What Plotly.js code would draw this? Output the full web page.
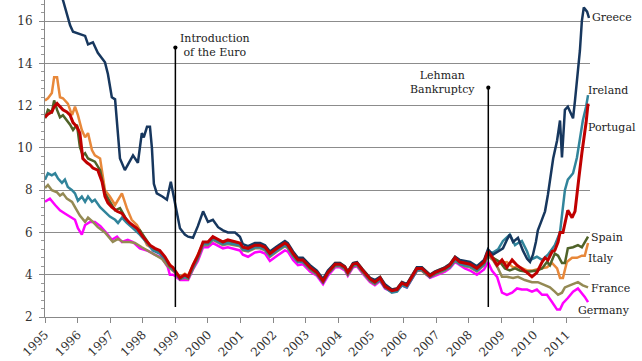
<!DOCTYPE html>
<html><head><meta charset="utf-8">
<script src="https://cdn.plot.ly/plotly-3.0.1.min.js"></script>
<style>html,body{margin:0;padding:0;background:#fff}#chart{width:642px;height:361px}</style>
</head><body><div id="chart"></div>
<script>
// ---- data (10-year government bond yields, %) ----
var tickYears = [1995,1996,1997,1998,1999,2000,2001,2002,2003,2004,2005,2006,2007,2008,2009,2010,2011];
var tickLabels = ["1995","1996","1997","1998","1999","2000","2001","2002","2003","2004","2005","2006","2007","2008","2009","2010","2011"];
var yTicks = [2,4,6,8,10,12,14,16];

var midYears = [1999.14,1999.29,1999.39,1999.54,1999.69,1999.85,2000.00,2000.15,2000.31,2000.46,2000.61,2000.83,2000.98,2001.07,2001.23,2001.44,2001.60,2001.75,2001.90,2002.12,2002.36,2002.45,2002.61,2002.76,2002.91,2003.13,2003.34,2003.53,2003.68,2003.90,2004.05,2004.20,2004.29,2004.45,2004.57,2004.75,2004.97,2005.12,2005.28,2005.43,2005.64,2005.80,2005.95,2006.10,2006.26,2006.41,2006.56,2006.66,2006.81,2006.96,2007.12,2007.27,2007.42,2007.58,2007.73,2007.88,2008.04,2008.25,2008.47,2008.59];

var greeceEarlyYears = [1995.00,1995.30,1995.55,1995.67,1995.77,1995.86,1996.07,1996.23,1996.32,1996.47,1996.62,1996.84,1996.93,1997.05,1997.15,1997.21,1997.30,1997.45,1997.70,1997.85,1997.97,1998.03,1998.13,1998.22,1998.28,1998.34,1998.43,1998.60,1998.74,1998.86,1998.99];
var greeceEarly = [19.0,18.0,17.0,16.4,15.8,15.5,15.4,15.3,14.9,15.0,14.5,14.05,13.5,12.4,12.3,11.0,9.5,8.95,9.65,9.3,10.7,10.5,11.0,11.0,10.0,8.3,7.85,7.7,7.55,8.4,7.3];
var greeceMid = [6.2,5.9,5.8,5.75,6.3,7.0,6.5,6.6,6.25,6.1,6.0,6.0,5.8,5.45,5.35,5.5,5.5,5.4,5.1,5.35,5.6,5.5,5.1,4.8,4.8,4.45,4.2,3.8,4.2,4.55,4.55,4.4,4.15,4.55,4.6,4.25,3.85,3.75,3.9,3.55,3.3,3.35,3.65,3.55,3.95,4.35,4.35,4.2,4.0,4.15,4.25,4.35,4.5,4.85,4.7,4.65,4.6,4.4,4.7,5.2];
var greeceLateYears = [2008.74,2008.90,2009.05,2009.17,2009.26,2009.36,2009.51,2009.66,2009.79,2009.88,2009.97,2010.06,2010.12,2010.22,2010.34,2010.43,2010.49,2010.59,2010.71,2010.80,2010.86,2010.95,2011.04,2011.20,2011.26,2011.32,2011.41,2011.47,2011.53,2011.63,2011.69];
var greeceLate = [4.95,5.1,5.25,5.65,5.9,5.55,5.75,5.15,4.75,4.6,4.95,5.55,6.1,6.5,7.0,7.8,8.4,9.5,10.35,11.3,9.55,11.8,11.95,11.4,12.25,13.1,14.6,16.0,16.65,16.45,16.15];

var portugalEarlyYears = [1995.00,1995.09,1995.21,1995.28,1995.37,1995.46,1995.55,1995.67,1995.77,1995.86,1995.98,1996.07,1996.13,1996.16,1996.29,1996.38,1996.47,1996.62,1996.75,1996.84,1996.93,1997.05,1997.21,1997.36,1997.45,1997.60,1997.82,1998.00,1998.22,1998.37,1998.52,1998.68,1998.83,1998.92,1998.99];
var portugalEarly = [11.45,11.6,11.7,11.95,12.1,11.95,11.8,11.7,11.55,11.2,11.0,10.7,10.05,9.5,9.3,9.2,9.05,8.95,8.4,7.7,7.4,7.2,7.0,6.9,6.7,6.45,6.2,5.8,5.4,5.25,5.15,4.85,4.45,4.35,4.2];
var portugalMid = [3.85,4.0,3.9,4.45,4.9,5.55,5.55,5.8,5.65,5.55,5.65,5.55,5.5,5.3,5.25,5.4,5.4,5.3,5.0,5.25,5.5,5.4,5.0,4.7,4.7,4.35,4.1,3.7,4.1,4.5,4.5,4.35,4.1,4.5,4.55,4.2,3.8,3.65,3.85,3.45,3.25,3.3,3.6,3.5,3.9,4.3,4.3,4.15,3.95,4.1,4.2,4.3,4.45,4.8,4.6,4.55,4.5,4.3,4.6,5.1];
var portugalLateYears = [2008.71,2008.87,2009.02,2009.17,2009.33,2009.48,2009.63,2009.79,2009.94,2010.09,2010.25,2010.34,2010.43,2010.56,2010.64,2010.74,2010.80,2010.89,2011.04,2011.17,2011.26,2011.32,2011.38,2011.47,2011.53,2011.60,2011.66];
var portugalLate = [4.85,4.45,4.7,4.35,4.7,4.45,4.3,4.1,3.9,4.1,4.6,4.8,4.7,5.1,5.15,5.55,6.0,6.0,7.05,6.7,7.0,7.7,8.6,9.75,10.4,11.2,12.1];

var spainEarlyYears = [1995.00,1995.09,1995.21,1995.28,1995.37,1995.46,1995.55,1995.67,1995.77,1995.86,1995.98,1996.07,1996.16,1996.23,1996.32,1996.53,1996.69,1996.84,1997.05,1997.15,1997.30,1997.45,1997.54,1997.70,1997.91,1998.13,1998.31,1998.52,1998.68,1998.83,1998.99];
var spainEarly = [11.4,11.8,11.7,12.25,11.8,11.45,11.55,11.3,11.1,10.85,11.1,10.05,9.65,9.75,9.5,9.35,8.95,7.85,7.3,7.05,7.15,6.75,6.5,6.25,6.1,5.6,5.2,5.05,4.8,4.4,4.15];
var spainMid = [3.8,3.95,3.85,4.4,4.85,5.5,5.5,5.75,5.6,5.5,5.6,5.5,5.45,5.25,5.2,5.35,5.35,5.25,4.95,5.2,5.45,5.35,4.95,4.65,4.65,4.3,4.05,3.65,4.05,4.45,4.45,4.3,4.05,4.45,4.5,4.15,3.75,3.6,3.8,3.4,3.2,3.25,3.55,3.45,3.85,4.25,4.25,4.1,3.9,4.05,4.15,4.25,4.4,4.75,4.55,4.5,4.45,4.25,4.55,5.05];
var spainLateYears = [2008.74,2008.96,2009.11,2009.26,2009.42,2009.57,2009.72,2009.88,2010.09,2010.25,2010.40,2010.49,2010.64,2010.74,2010.86,2010.95,2011.04,2011.20,2011.35,2011.47,2011.60,2011.66];
var spainLate = [4.8,4.6,4.3,4.2,4.3,4.2,4.15,4.15,4.2,4.3,4.6,4.45,5.0,4.9,4.55,4.55,5.25,5.3,5.4,5.3,5.65,5.8];

var italyEarlyYears = [1995.00,1995.09,1995.21,1995.28,1995.37,1995.46,1995.55,1995.70,1995.83,1995.92,1996.01,1996.13,1996.23,1996.32,1996.44,1996.53,1996.69,1996.78,1996.84,1996.99,1997.15,1997.36,1997.51,1997.66,1997.82,1997.97,1998.13,1998.31,1998.52,1998.74,1998.89,1999.00];
var italyEarly = [12.25,12.35,12.6,13.35,13.35,12.4,12.35,12.1,11.55,11.95,11.55,10.85,10.5,10.7,9.9,9.65,9.5,8.7,8.0,7.7,7.3,7.85,7.15,6.6,6.35,5.95,5.4,5.25,5.05,4.7,4.35,4.1];
var italyMid = [3.9,4.05,3.95,4.45,4.9,5.5,5.55,5.75,5.65,5.55,5.6,5.55,5.45,5.3,5.25,5.4,5.4,5.3,5.0,5.25,5.5,5.4,5.0,4.7,4.7,4.35,4.1,3.75,4.15,4.55,4.55,4.4,4.15,4.55,4.6,4.25,3.85,3.7,3.9,3.5,3.3,3.35,3.65,3.55,3.95,4.35,4.35,4.2,4.0,4.15,4.25,4.35,4.5,4.85,4.65,4.6,4.55,4.35,4.65,5.15];
var italyLateYears = [2008.74,2008.96,2009.17,2009.36,2009.57,2009.79,2009.97,2010.18,2010.40,2010.56,2010.71,2010.80,2010.89,2011.01,2011.17,2011.32,2011.47,2011.56,2011.66];
var italyLate = [4.8,4.55,4.6,4.35,4.35,4.2,4.2,4.3,4.35,4.55,4.3,3.85,3.85,4.6,4.8,4.8,4.9,4.9,5.5];

var irelandEarlyYears = [1995.00,1995.09,1995.21,1995.31,1995.40,1995.52,1995.61,1995.70,1995.83,1995.92,1996.01,1996.13,1996.23,1996.32,1996.44,1996.53,1996.69,1996.84,1996.99,1997.15,1997.24,1997.36,1997.51,1997.70,1997.91,1998.13,1998.31,1998.52,1998.68,1998.83,1998.99];
var irelandEarly = [8.5,8.8,8.7,8.8,8.55,8.35,8.5,8.15,8.0,7.85,7.5,7.7,7.45,7.7,7.45,7.55,7.2,6.95,6.75,6.6,6.45,6.7,6.45,6.2,5.9,5.5,5.15,5.0,4.75,4.4,4.15];
var irelandMid = [3.8,3.9,3.85,4.35,4.8,5.45,5.45,5.7,5.55,5.45,5.5,5.45,5.4,5.2,5.15,5.3,5.3,5.2,4.9,5.15,5.4,5.3,4.9,4.6,4.6,4.3,4.05,3.65,4.05,4.45,4.45,4.3,4.05,4.45,4.5,4.15,3.75,3.6,3.75,3.4,3.15,3.2,3.5,3.4,3.8,4.2,4.25,4.1,3.9,4.05,4.15,4.25,4.35,4.7,4.5,4.45,4.4,4.2,4.5,5.0];
var irelandLateYears = [2008.74,2008.90,2009.05,2009.26,2009.42,2009.51,2009.63,2009.79,2009.88,2010.09,2010.25,2010.43,2010.64,2010.80,2010.89,2010.95,2011.04,2011.20,2011.32,2011.41,2011.50,2011.60,2011.66];
var irelandLate = [5.05,5.2,5.6,5.9,5.4,5.5,5.6,5.1,4.7,4.85,4.7,4.95,5.4,6.0,7.05,8.0,8.5,8.8,9.55,10.35,11.3,11.95,12.5];

var franceEarlyYears = [1995.00,1995.09,1995.21,1995.37,1995.46,1995.55,1995.67,1995.83,1995.92,1996.07,1996.23,1996.32,1996.47,1996.62,1996.84,1996.99,1997.08,1997.24,1997.39,1997.60,1997.76,1997.97,1998.13,1998.37,1998.59,1998.77,1998.92,1998.99];
var franceEarly = [8.1,8.25,8.0,7.9,7.75,7.85,7.6,7.45,7.2,6.8,6.5,6.7,6.5,6.25,6.0,5.7,5.55,5.7,5.55,5.55,5.5,5.3,5.15,4.95,4.75,4.4,4.2,4.1];
var franceMid = [3.8,3.85,3.8,4.3,4.75,5.4,5.4,5.65,5.5,5.4,5.45,5.4,5.35,5.15,5.1,5.25,5.25,5.15,4.85,5.1,5.35,5.25,4.85,4.6,4.6,4.25,4.0,3.65,4.05,4.4,4.4,4.25,4.0,4.4,4.45,4.1,3.7,3.55,3.75,3.4,3.2,3.25,3.55,3.45,3.85,4.2,4.2,4.05,3.9,4.0,4.1,4.2,4.35,4.65,4.5,4.4,4.35,4.15,4.45,4.9];
var franceLateYears = [2008.74,2008.90,2009.02,2009.17,2009.36,2009.51,2009.72,2009.94,2010.12,2010.34,2010.49,2010.64,2010.74,2010.86,2010.95,2011.10,2011.26,2011.35,2011.50,2011.66];
var franceLate = [4.7,4.3,3.9,3.9,3.85,3.9,3.75,3.65,3.65,3.5,3.4,3.2,3.05,3.15,3.4,3.5,3.6,3.65,3.5,3.4];

var germanyEarlyYears = [1995.00,1995.15,1995.31,1995.46,1995.61,1995.77,1995.92,1996.01,1996.13,1996.23,1996.38,1996.53,1996.70,1996.90,1997.05,1997.21,1997.36,1997.54,1997.70,1997.91,1998.13,1998.37,1998.59,1998.77,1998.83,1998.92,1998.99];
var germanyEarly = [7.45,7.6,7.3,7.05,6.9,6.75,6.6,6.2,5.9,6.35,6.5,6.5,6.3,5.95,5.65,5.8,5.55,5.65,5.55,5.25,5.15,4.95,4.8,4.35,4.0,4.0,3.95];
var germanyMid = [3.75,3.75,3.75,4.25,4.65,5.3,5.3,5.5,5.35,5.25,5.3,5.2,5.15,4.95,4.85,5.05,5.1,5.0,4.65,4.9,5.15,5.1,4.7,4.45,4.5,4.15,3.95,3.55,3.95,4.35,4.35,4.2,3.95,4.35,4.4,4.05,3.65,3.5,3.7,3.35,3.2,3.25,3.5,3.4,3.8,4.2,4.2,4.05,3.85,3.95,4.05,4.15,4.3,4.6,4.45,4.3,4.2,4.0,4.25,4.6];
var germanyLateYears = [2008.71,2008.87,2009.02,2009.17,2009.33,2009.48,2009.63,2009.79,2009.94,2010.09,2010.25,2010.40,2010.56,2010.71,2010.80,2010.89,2011.04,2011.20,2011.35,2011.47,2011.56,2011.66];
var germanyLate = [4.2,3.9,3.15,3.05,3.15,3.35,3.3,3.3,3.2,3.3,3.05,3.05,2.7,2.35,2.35,2.65,2.9,3.2,3.35,3.15,2.95,2.7];

var countries = ["Germany","France","Italy","Spain","Ireland","Greece","Portugal"];
var colors = {Germany:"#FF00FF",France:"#948A54",Italy:"#E8883A",Spain:"#4F6228",Ireland:"#31849B",Greece:"#17375E",Portugal:"#C00000"};

var seriesData = {
  Germany:[germanyEarlyYears,germanyEarly,germanyMid,germanyLateYears,germanyLate],
  France:[franceEarlyYears,franceEarly,franceMid,franceLateYears,franceLate],
  Italy:[italyEarlyYears,italyEarly,italyMid,italyLateYears,italyLate],
  Spain:[spainEarlyYears,spainEarly,spainMid,spainLateYears,spainLate],
  Ireland:[irelandEarlyYears,irelandEarly,irelandMid,irelandLateYears,irelandLate],
  Greece:[greeceEarlyYears,greeceEarly,greeceMid,greeceLateYears,greeceLate],
  Portugal:[portugalEarlyYears,portugalEarly,portugalMid,portugalLateYears,portugalLate]
};

// label anchor (year, value) and small pixel nudge for labels that sit past the last year
var labelPos = {
  Greece:[2011.70,16.19,1], Ireland:[2011.60,12.74,0], Portugal:[2011.60,10.99,0],
  Spain:[2011.70,5.78,0], Italy:[2011.60,4.79,0], France:[2011.70,3.37,0], Germany:[2011.30,2.33,0]
};

var events = [
  {year:1999.0, top:14.75, text:"Introduction<br>of the Euro", tx:2000.21, ty:14.84},
  {year:2008.6, top:12.85, text:"Lehman<br>Bankruptcy", tx:2007.18, ty:13.12}
];

var serif = "DejaVu Serif, Liberation Serif, serif";

var traces = countries.map(function(c){
  var d = seriesData[c];
  return {
    x: d[0].concat(midYears, d[3]),
    y: d[1].concat(d[2], d[4]),
    type:"scatter", mode:"lines", name:c,
    line:{color:colors[c], width:(c==="Portugal"?3:2.5)},
    hoverinfo:"skip"
  };
});

var annotations = [];
countries.forEach(function(c){
  annotations.push({x:labelPos[c][0], y:labelPos[c][1], xshift:labelPos[c][2], xref:"x", yref:"y", text:c,
    showarrow:false, xanchor:"left", yanchor:"middle", font:{family:serif, size:11, color:"#222"}});
});
events.forEach(function(e){
  annotations.push({x:e.year, y:e.top, ax:e.year, ay:2, xref:"x", yref:"y", axref:"x", ayref:"y",
    text:" ", showarrow:true, arrowhead:6, arrowsize:0.7, arrowwidth:1.5, arrowcolor:"#000", standoff:0, startstandoff:0});
  annotations.push({x:e.tx, y:e.ty, xref:"x", yref:"y", text:e.text, showarrow:false,
    xanchor:"center", yanchor:"middle", font:{family:serif, size:11, color:"#222"}});
});

var layout = {
  width:642, height:361,
  margin:{l:45, r:52, t:0, b:44, pad:0},
  paper_bgcolor:"#fff", plot_bgcolor:"#fff",
  showlegend:false,
  xaxis:{range:[1995,2011.72], tickmode:"array", tickvals:tickYears, ticktext:tickLabels,
    tickangle:-45, ticks:"outside", ticklen:5, tickcolor:"#888", showline:true, linecolor:"#888",
    showgrid:false, zeroline:false, tickfont:{family:serif, size:12, color:"#333"}},
  yaxis:{range:[2,17], tickmode:"array", tickvals:yTicks, ticks:"outside", ticklen:5, tickcolor:"#888",
    showline:true, linecolor:"#888", showgrid:true, gridcolor:"#8c8c8c", gridwidth:1, zeroline:false,
    ticklabelstandoff:4,
    minor:{tick0:2, dtick:0.4, ticks:"outside", ticklen:3, tickcolor:"#999", showgrid:false},
    tickfont:{family:serif, size:12, color:"#333"}},
  annotations:annotations
};

Plotly.newPlot("chart", traces, layout, {staticPlot:true});
</script></body></html>
